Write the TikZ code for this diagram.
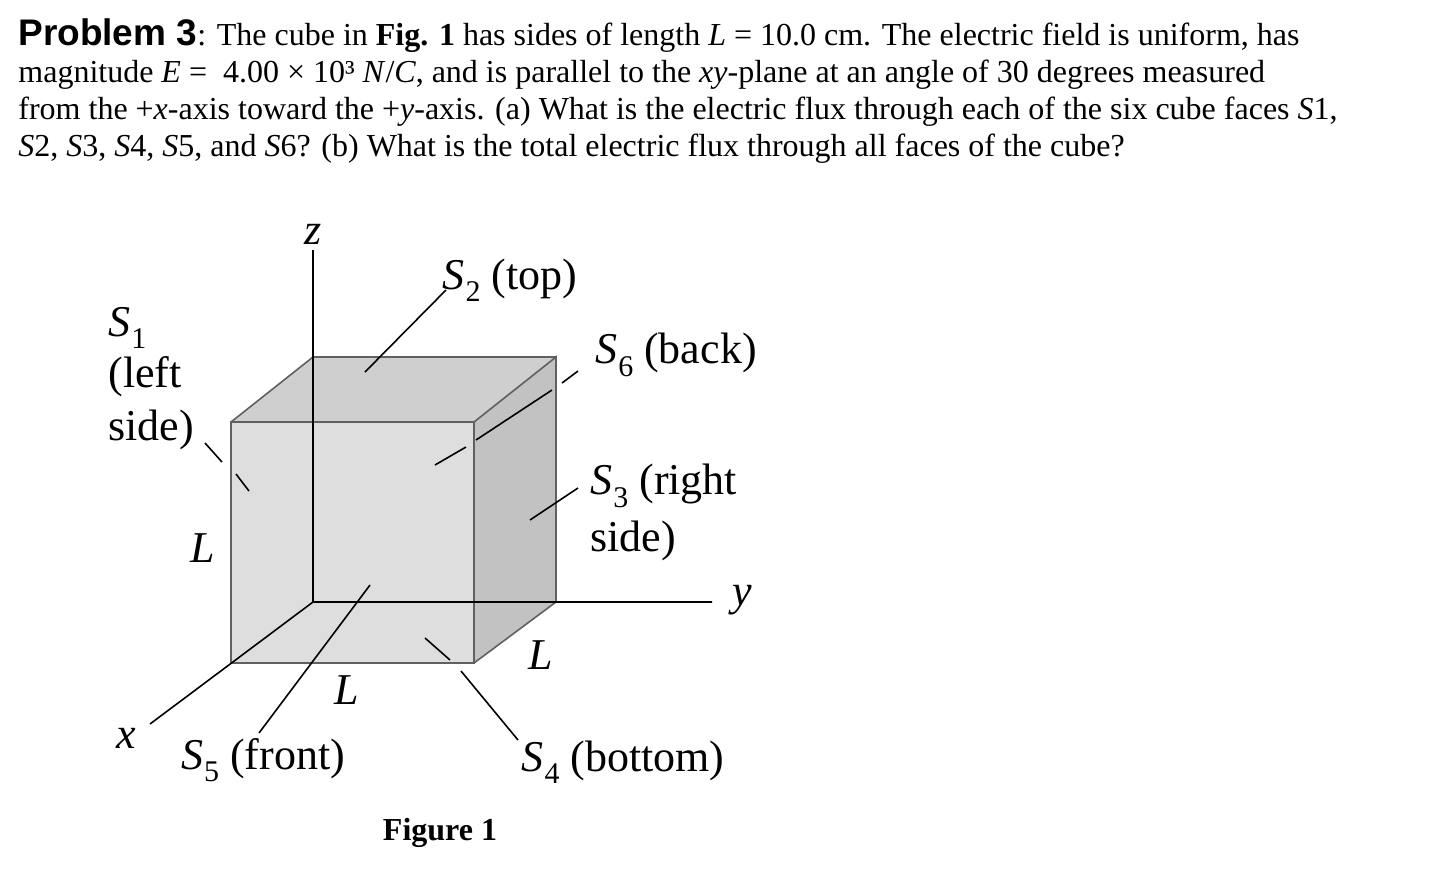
\documentclass[tikz,border=0pt]{standalone}
\usepackage{fontspec}
\setmainfont{Liberation Serif}
\newfontfamily\hdfont{Liberation Sans}
\newcommand{\Ssub}[1]{\textit{S}\kern0.5pt\raisebox{-0.28em}{\fontsize{15}{15}\selectfont #1}}
\begin{document}
\begin{tikzpicture}[x=0.5pt,y=-0.5pt,
  tline/.style={anchor=west,inner sep=0pt,font=\fontsize{16}{19}\selectfont},
  lab/.style={inner sep=0pt,font=\fontsize{22}{26}\selectfont},
  ilab/.style={inner sep=0pt,font=\fontsize{22}{26}\selectfont\itshape},
  lead/.style={black,line width=0.8pt},
  edge/.style={draw=gray!75!black,line width=0.8pt}]
\useasboundingbox (0,0) rectangle (1434,880);
\node[tline] (t1) at (18,36) {{\hdfont\bfseries\fontsize{18.5}{20}\selectfont Problem 3}: The cube in \textbf{Fig. 1} has sides of length \textit{L} = 10.0 cm. The electric field is uniform, has};
\node[tline] (t2) at (18,75) {magnitude \textit{E} = \ 4.00 × 10³ \textit{N}/\textit{C}, and is parallel to the \textit{xy}-plane at an angle of 30 degrees measured};
\node[tline] (t3) at (18,112) {from the +\textit{x}-axis toward the +\textit{y}-axis. (a) What is the electric flux through each of the six cube faces \textit{S}1,};
\node[tline] (t4) at (18,149) {\textit{S}2, \textit{S}3, \textit{S}4, \textit{S}5, and \textit{S}6? (b) What is the total electric flux through all faces of the cube?};
% cube
\coordinate (O) at (313,602);
\coordinate (A) at (231,663); \coordinate (B) at (474,663);
\coordinate (C) at (474,422); \coordinate (D) at (231,422);
\coordinate (E) at (313,357); \coordinate (F) at (556,357);
\coordinate (G) at (556,602);
\fill[gray!48] (C) -- (F) -- (G) -- (B) -- cycle;
\fill[gray!38] (D) -- (E) -- (F) -- (C) -- cycle;
\fill[gray!26] (A) -- (B) -- (C) -- (D) -- cycle;
\draw[edge] (A) -- (B) -- (C) -- (D) -- cycle (C) -- (F) -- (G) -- (B) (D) -- (E) -- (F);
% axes
\coordinate (zt) at (313,250); \coordinate (ye) at (712,602); \coordinate (xe) at (150,724);
\draw[lead] (zt) -- (O) -- (ye) (O) -- (xe);
\node[ilab] (z) at (313,234) {z};
\node[ilab] (y) at (742,600) {y};
\node[ilab] (x) at (126,738) {x};
\node[ilab] (L1) at (203,548) {L};
\node[ilab] (L2) at (347,690) {L};
\node[ilab] (L3) at (541,655) {L};
% labels
\node[lab,anchor=west] (s1a) at (108,328) {\Ssub{1}};
\node[lab,anchor=west] (s1b) at (108,377) {(left};
\node[lab,anchor=west] (s1c) at (108,430) {side)};
\node[lab] (s2) at (510,280) {\Ssub{2} (top)};
\node[lab] (s6) at (676,355) {\Ssub{6} (back)};
\node[lab,anchor=west] (s3a) at (590,486) {\Ssub{3} (right};
\node[lab,anchor=west] (s3b) at (590,541) {side)};
\node[lab] (s5) at (263,760) {\Ssub{5} (front)};
\node[lab] (s4) at (623,762) {\Ssub{4} (bottom)};
\node[lab,font=\fontsize{16}{18}\selectfont\bfseries] (fig) at (440,833) {Figure 1};
% leaders
\draw[lead] (365,372) -- (446,290);
\draw[lead] (562,383) -- (578,371) (476,440) -- (552,390) (435,465) -- (466,447);
\draw[lead] (205,443) -- (222,462) (236,474) -- (249,491);
\draw[lead] (530,520) -- (578,488);
\draw[lead] (259,733) -- (370,585);
\draw[lead] (425,638) -- (450,660) (461,671) -- (518,740);
\end{tikzpicture}
\end{document}
